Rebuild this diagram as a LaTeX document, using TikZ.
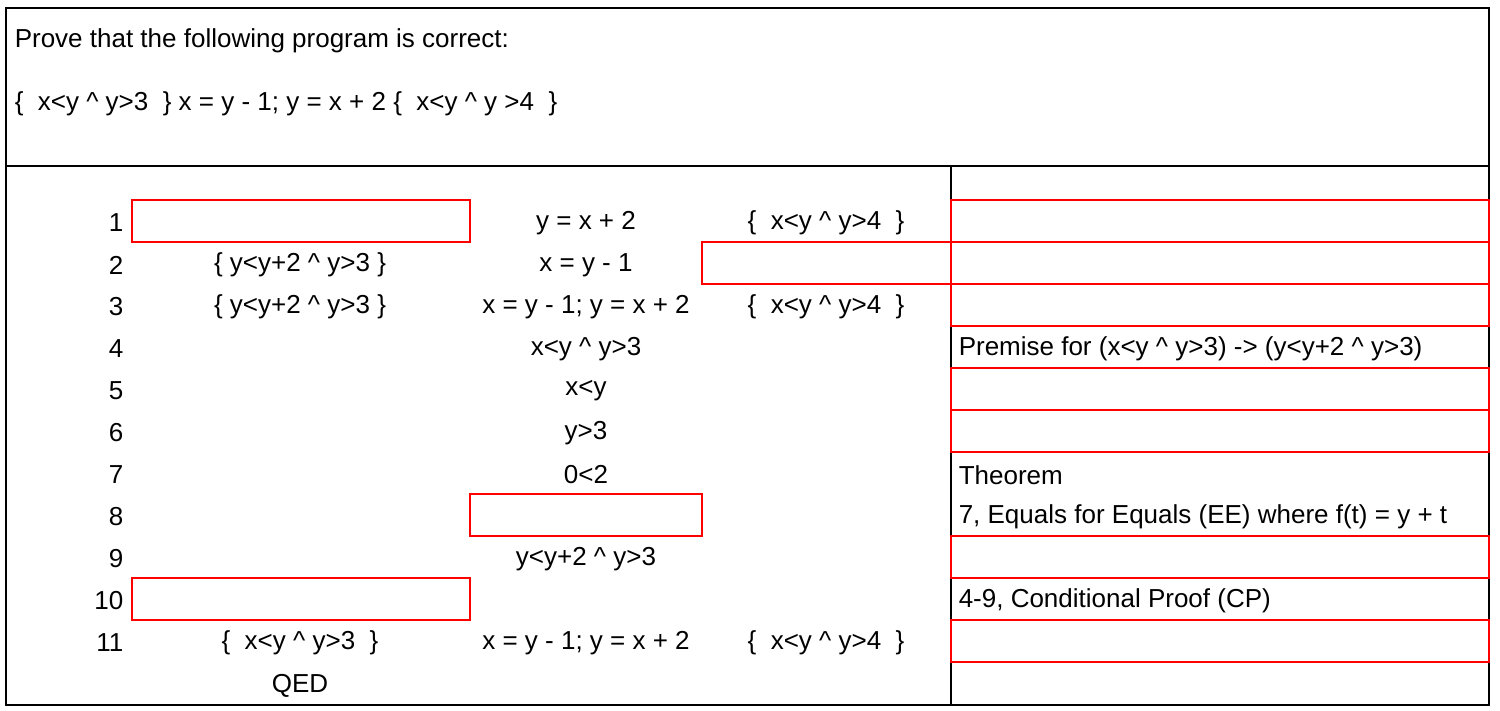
\documentclass[tikz,border=0pt]{standalone}
\usepackage{fontspec}
\setmainfont{Liberation Sans}
\begin{document}
\begin{tikzpicture}[x=1pt,y=-1pt,line width=1.5pt,
  txt/.style={font=\fontsize{26}{30}\selectfont,inner sep=0pt,anchor=center},
  lft/.style={txt,anchor=west},
  num/.style={txt,anchor=east},
  redbox/.style={draw=red,line width=1.5pt}]
\useasboundingbox (0,0) rectangle (1500,710);
\fill[white] (0,0) rectangle (1500,710);
\draw (6,8) rectangle (1489,705);
\draw (6,166) -- (1489,166);
\draw (951,166) -- (951,705);
\node[lft] (t1) at (14,41) {Prove that the following program is correct:};
\node[lft] (t2) at (14,104) {\{\ \ x<y \^{} y>3\ \ \} x = y - 1; y = x + 2 \{\ \ x<y \^{} y >4\ \ \}};
\foreach \i in {1,...,11} {\node[num] (n\i) at (124,{223+42*(\i-1)}) {\i};}
% column 1
\node[txt] (a2) at (300,265) {\{ y<y+2 \^{} y>3 \}};
\node[txt] (a3) at (300,307) {\{ y<y+2 \^{} y>3 \}};
\node[txt] (a11) at (300,643) {\{\ \ x<y \^{} y>3\ \ \}};
\node[txt] (qed) at (300,686) {QED};
% column 2
\node[txt] (b1) at (586,223) {y = x + 2};
\node[txt] (b2) at (586,265) {x = y - 1};
\node[txt] (b3) at (586,307) {x = y - 1; y = x + 2};
\node[txt] (b4) at (586,349) {x<y \^{} y>3};
\node[txt] (b5) at (586,391) {x<y};
\node[txt] (b6) at (586,433) {y>3};
\node[txt] (b7) at (586,475) {0<2};
\node[txt] (b9) at (586,559) {y<y+2 \^{} y>3};
\node[txt] (b11) at (586,643) {x = y - 1; y = x + 2};
% column 3
\node[txt] (c1) at (826,223) {\{\ \ x<y \^{} y>4\ \ \}};
\node[txt] (c3) at (826,307) {\{\ \ x<y \^{} y>4\ \ \}};
\node[txt] (c11) at (826,643) {\{\ \ x<y \^{} y>4\ \ \}};
% right column
\node[lft] (r4) at (958,349) {Premise for (x<y \^{} y>3) -> (y<y+2 \^{} y>3)};
\node[lft] (r7) at (958,475) {Theorem};
\node[lft] (r8) at (958,517) {7, Equals for Equals (EE) where f(t) = y + t};
\node[lft] (r10) at (958,601) {4-9, Conditional Proof (CP)};
% red boxes
\foreach \i in {1,2,3,5,6,9,11} {\draw[redbox] (951,{200+42*(\i-1)}) rectangle (1489,{242+42*(\i-1)});}
\draw[redbox] (132,200) rectangle (470,242);
\draw[redbox] (702,242) rectangle (951,284);
\draw[redbox] (470,494) rectangle (702,536);
\draw[redbox] (132,578) rectangle (470,620);
\end{tikzpicture}
\end{document}
